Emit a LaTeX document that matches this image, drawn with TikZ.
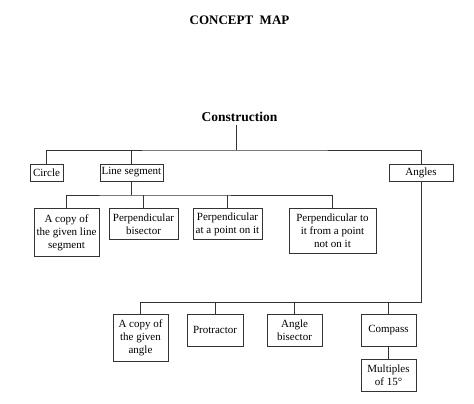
\documentclass[tikz,border=0pt]{standalone}
\usepackage{fontspec}
\setmainfont{Liberation Serif}
\tikzset{
  box/.style={draw=black!80, line width=0.8pt, align=center, inner sep=0pt,
    font=\fontsize{11}{13}\selectfont},
  link/.style={draw=black!80, line width=0.8pt}
}
\begin{document}
\begin{tikzpicture}[x=1pt,y=-1pt]
  \useasboundingbox (0,0) rectangle (474,404);
  \node[font=\bfseries\fontsize{13}{15}\selectfont] (title) at (239.5,20) {CONCEPT\ \ MAP};
  \node[font=\bfseries\fontsize{13.5}{16}\selectfont] (construction) at (239.5,117) {Construction};
  % first level
  \node[box, minimum width=33, minimum height=17] (circle) at (46.5,172.5) {Circle};
  \node[box, minimum width=63, minimum height=17] (linesegment) at (131.5,172.5) {Line segment};
  \node[box, minimum width=64, minimum height=17] (angles) at (421,172.5) {Angles};
  % line segment
  \node[box, anchor=north, minimum width=65, minimum height=48] (copyline) at (66.5,208) {A copy of\\the given line\\segment};
  \node[box, anchor=north, minimum width=69, minimum height=31] (perpbis) at (143.5,208) {Perpendicular\\bisector};
  \node[box, anchor=north, minimum width=69, minimum height=31] (perpon) at (227.5,208) {Perpendicular\\at a point on it};
  \node[box, anchor=north, minimum width=87, minimum height=45] (perpnot) at (332.5,208) {Perpendicular to\\it from a point\\not on it};
  % angles
  \node[box, anchor=north, minimum width=55, minimum height=47] (copyangle) at (140.5,314) {A copy of\\the given\\angle};
  \node[box, anchor=north, minimum width=56, minimum height=32] (protractor) at (215,314) {Protractor};
  \node[box, anchor=north, minimum width=55, minimum height=32] (anglebis) at (294.5,314) {Angle\\bisector};
  \node[box, anchor=north, minimum width=55, minimum height=32] (compass) at (388.5,314) {Compass};
  \node[box, anchor=north, minimum width=55, minimum height=32] (multiples) at (388.5,359) {Multiples\\of 15°};
  % buses
  \coordinate (bus1) at (236,150);
  \coordinate (bus2) at (131.5,195);
  \coordinate (bus3) at (421,302);
  \begin{scope}[link]
    \draw (construction.south -| bus1) -- (bus1);
    \draw (circle.north) |- (bus1) -| (angles.north);
    \draw (linesegment.north) -- (linesegment.north |- bus1);
    \draw (linesegment.south) -- (bus2);
    \draw (copyline.north) |- (bus2) -| (perpnot.north);
    \draw (perpbis.north) -- (perpbis.north |- bus2);
    \draw (perpon.north) -- (perpon.north |- bus2);
    \draw (angles.south) -- (bus3) -| (copyangle.north);
    \draw (protractor.north) -- (protractor.north |- bus3);
    \draw (anglebis.north) -- (anglebis.north |- bus3);
    \draw (compass.north) -- (compass.north |- bus3);
    \draw (compass.south) -- (multiples.north);
  \end{scope}
\end{tikzpicture}
\end{document}
